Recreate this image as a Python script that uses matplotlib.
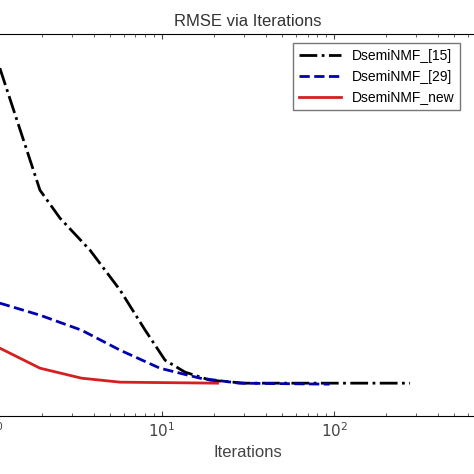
import matplotlib.pyplot as plt

plt.rcParams['font.family'] = ['Liberation Sans', 'DejaVu Sans']

# iterations and RMSE (arbitrary units, y-axis labels are cropped in the reference)
iter_15 = [1.14, 1.95, 2.55, 3.81, 5.7, 7.97, 10.4, 13.6, 19, 30, 276]
rmse_15 = [348, 226, 198, 166, 126, 86, 56, 44, 36, 33, 33]
iter_29 = [1.14, 1.95, 3.4, 5.7, 9.7, 16.6, 28, 94]
rmse_29 = [113, 101, 86, 66, 48, 38, 33, 32]
iter_new = [1.14, 1.95, 3.4, 5.7, 21]
rmse_new = [68, 48, 38, 34, 33]
xtick_vals = [1, 10, 100]
xtick_labels = ['$10^0$', '$10^1$', '$10^2$']

fig = plt.figure(figsize=(4.74, 4.74), dpi=100)
ax = fig.add_axes([-0.021, 0.122, 1.089, 0.806])
ax.plot(iter_15, rmse_15, color='black', ls='-.', lw=2, label='DsemiNMF_[15]')
ax.plot(iter_29, rmse_29, color='#0000b0', ls='--', lw=2, label='DsemiNMF_[29]')
ax.plot(iter_new, rmse_new, color='#d42020', ls='-', lw=2, label='DsemiNMF_new')
ax.set_xscale('log')
ax.set_xlim(1, 1000)
ax.set_ylim(0, 382)
ax.set_yticks([])
ax.set_xticks(xtick_vals)
ax.set_xticklabels(xtick_labels)
ax.tick_params(which='both', direction='in', top=True, labelsize=11, colors='#444444')
ax.set_title('RMSE via Iterations', fontsize=12, color='#333333')
ax.set_xlabel('Iterations', fontsize=12, color='#444444')
leg = ax.legend(loc='upper right', bbox_to_anchor=(460/474, 1-43/474),
                bbox_transform=fig.transFigure, fancybox=False, fontsize=10,
                edgecolor='#555555', handlelength=3, borderaxespad=0)
fig.savefig('out.png', dpi=100)
